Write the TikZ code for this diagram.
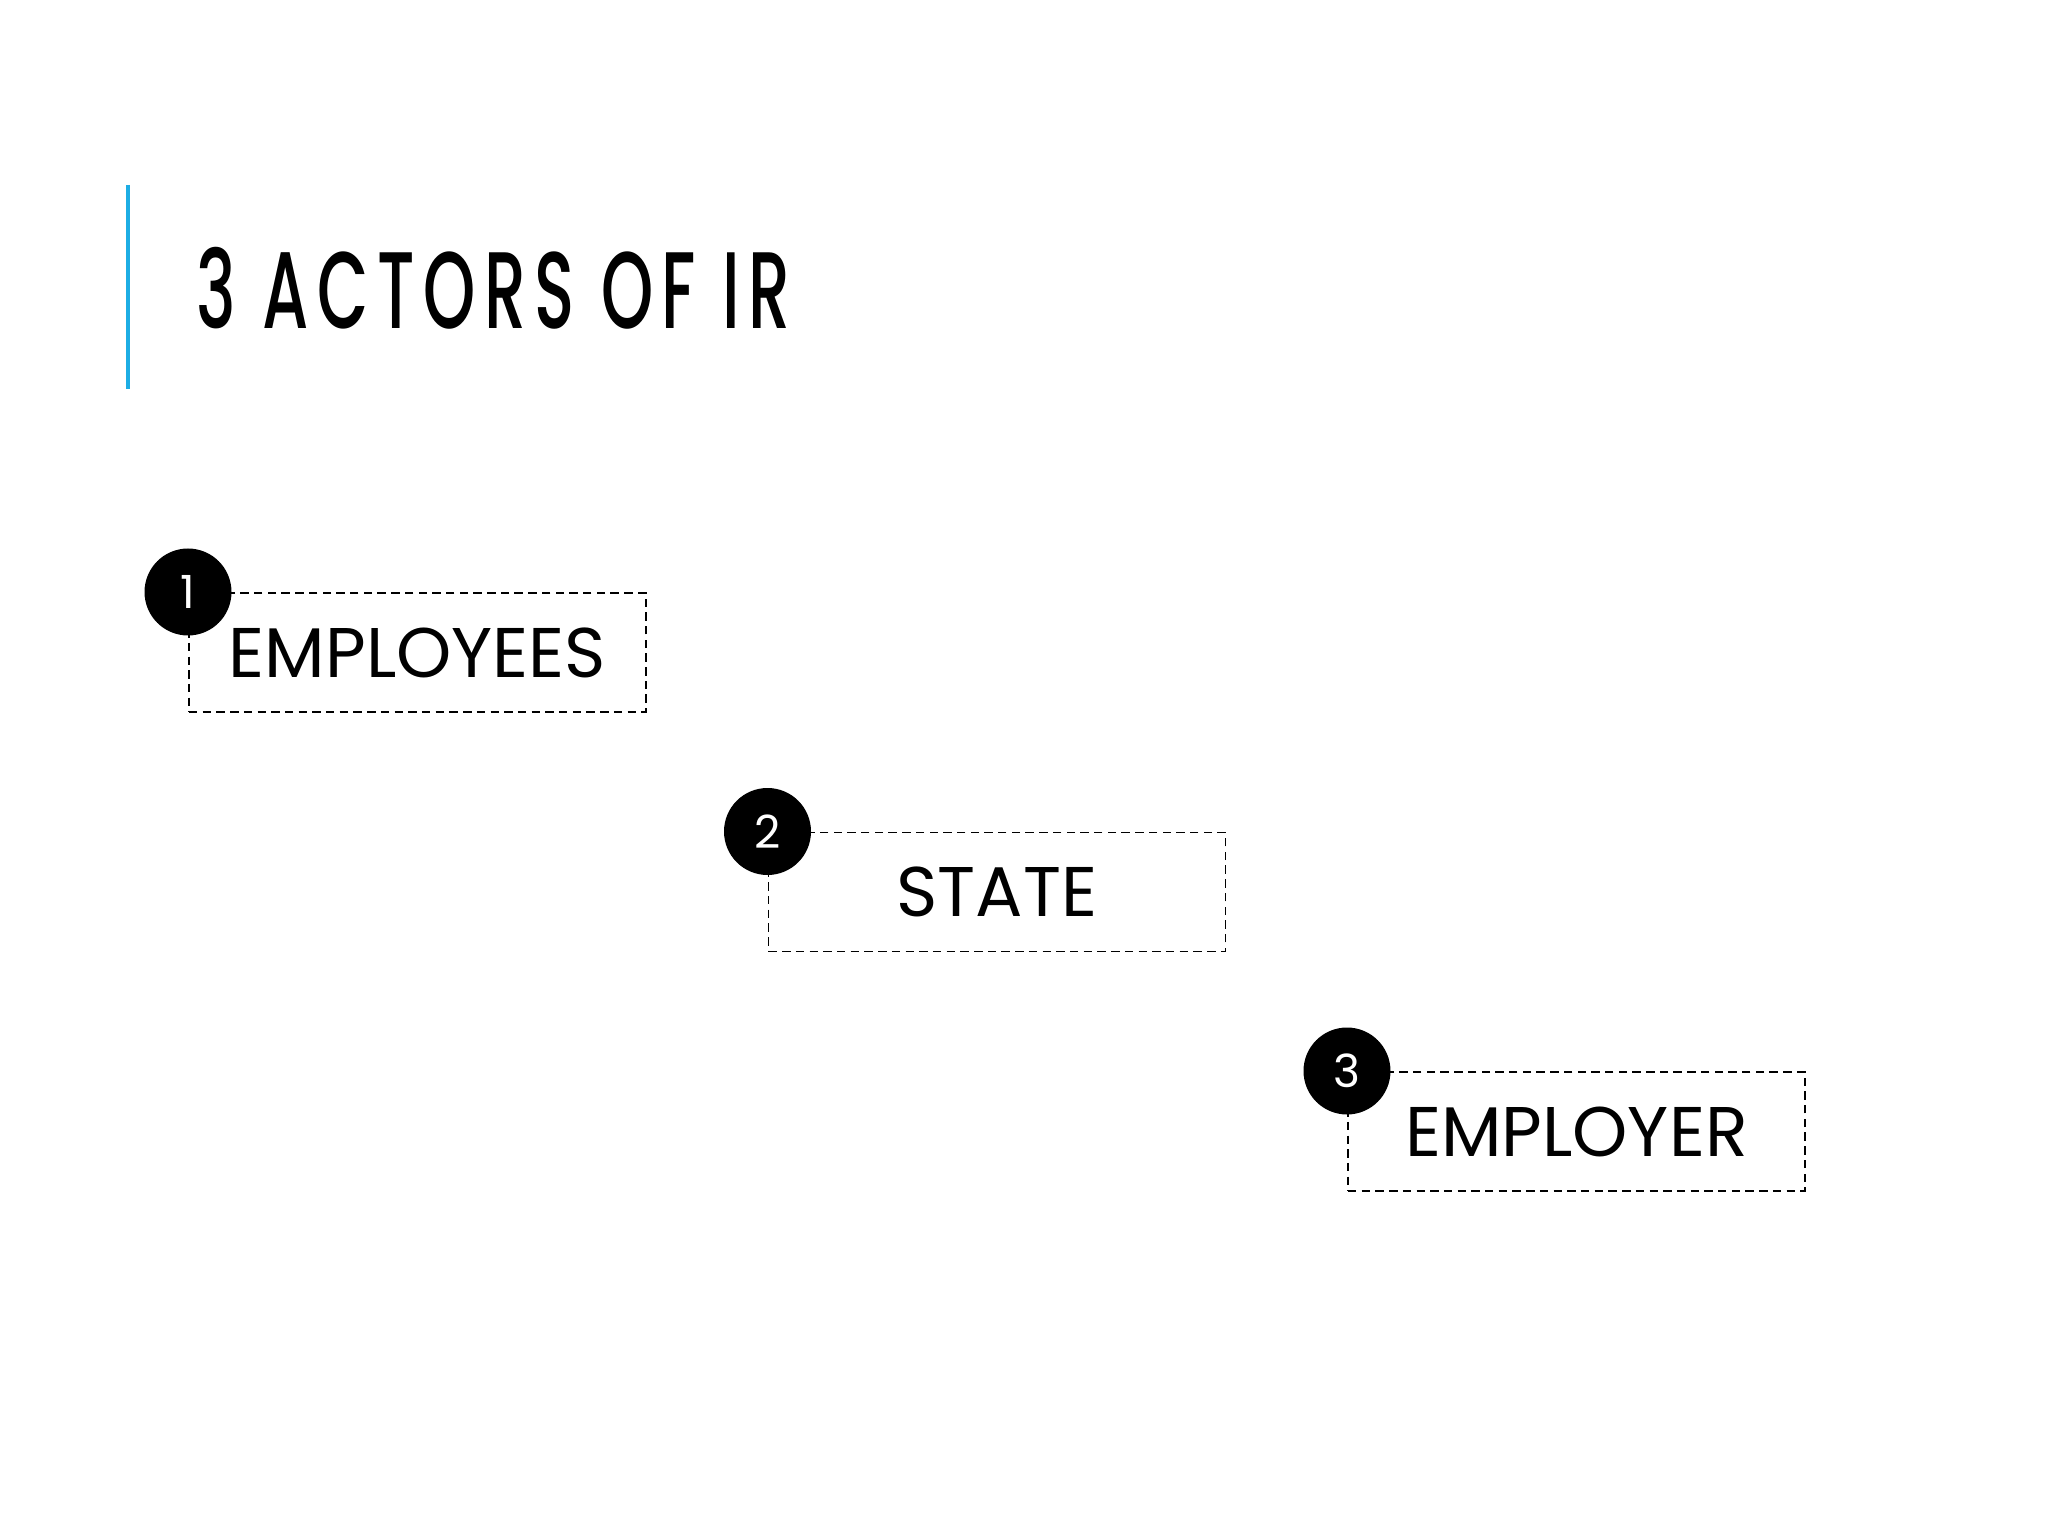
\documentclass[tikz,border=0pt]{standalone}
\usepackage{fontspec}
\setmainfont{Poppins}
\newfontfamily\titlefont[FakeStretch=0.61,LetterSpace=8]{Poppins Medium}
\usetikzlibrary{positioning}

\definecolor{accentblue}{RGB}{29,173,228}

\begin{document}
\begin{tikzpicture}[
        actor/.style={draw, dash pattern=on 2.4pt off 1.5pt, line width=0.55pt,
            minimum width=4.57cm, minimum height=1.19cm, inner sep=0pt,
            font=\fontsize{20}{24}\selectfont},
        badge/.style={circle, fill=black, text=white, minimum size=0.87cm,
            inner sep=0pt, font=\fontsize{13}{15}\selectfont}
        ]
            \useasboundingbox (0,0) rectangle (20.48,-15.36);

            % Titel
            \draw [accentblue, line width=1.15pt] (1.28,-1.85) coordinate (bartop)
                -- (1.28,-3.89) coordinate (barbot);
            \node (title) [anchor=base west, inner sep=0pt,
                font=\titlefont\fontsize{31}{36}\selectfont]
                at (1.96,-3.29) {3 ACTORS OF IR};

            % Kaesten mit Nummern
            \foreach \i/\txt in {1/EMPLOYEES, 2/STATE, 3/EMPLOYER}
            {
                \node (box\i) [actor, anchor=north west]
                    at ({1.88+(\i-1)*5.795}, {-5.92-(\i-1)*2.395}) {\txt};
                \node (num\i) [badge] at (box\i.north west) {\i};
            }
        \end{tikzpicture}
\end{document}
